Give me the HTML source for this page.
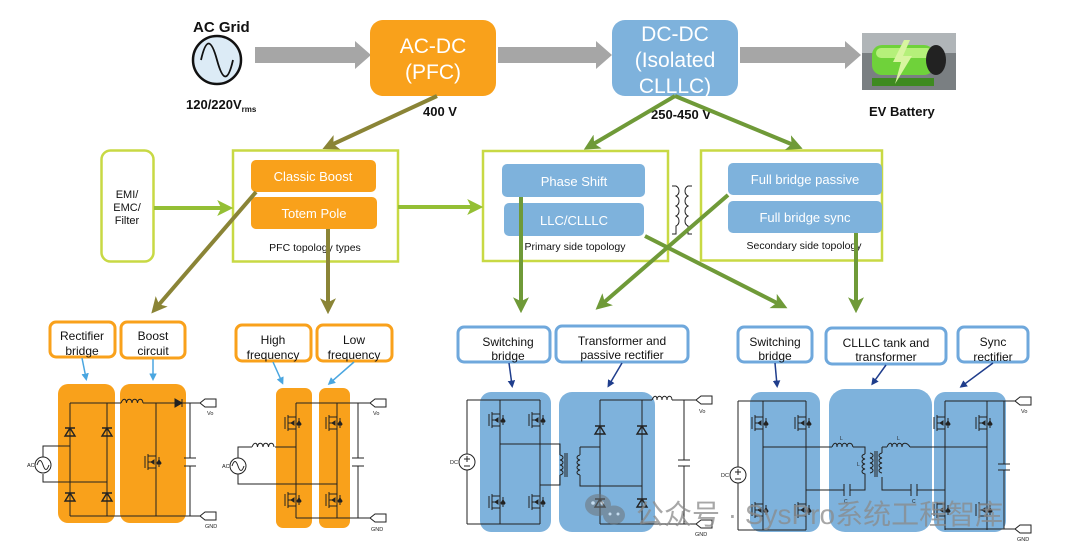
<!DOCTYPE html>
<html><head><meta charset="utf-8"><style>
html,body{margin:0;padding:0;background:#fff;}
svg{display:block;font-family:"Liberation Sans",Arial,sans-serif;}
</style></head><body>
<svg width="1080" height="555" viewBox="0 0 1080 555" xmlns="http://www.w3.org/2000/svg">
<defs>
<marker id="ao" markerWidth="4" markerHeight="4" refX="2.2" refY="2" orient="auto" markerUnits="strokeWidth"><path d="M0,0 L4,2 L0,4 L1,2z" fill="#8a8436"/></marker>
<marker id="ag" markerWidth="4" markerHeight="4" refX="2.2" refY="2" orient="auto" markerUnits="strokeWidth"><path d="M0,0 L4,2 L0,4 L1,2z" fill="#6f9a38"/></marker>
<marker id="al" markerWidth="4" markerHeight="4" refX="2.2" refY="2" orient="auto" markerUnits="strokeWidth"><path d="M0,0 L4,2 L0,4 L1,2z" fill="#94bf35"/></marker>
<marker id="ab" markerWidth="5" markerHeight="5" refX="3" refY="2.5" orient="auto" markerUnits="strokeWidth"><path d="M0,0 L5,2.5 L0,5z" fill="#4aa6e0"/></marker>
<marker id="an" markerWidth="5" markerHeight="5" refX="3" refY="2.5" orient="auto" markerUnits="strokeWidth"><path d="M0,0 L5,2.5 L0,5z" fill="#1f3d8c"/></marker>
<g id="mos" fill="none" stroke="#222" stroke-width="1">
<path d="M-11,6 V-6 M-8,-8 V8 M-8,-6 H0 V-14 M-8,6 H0 V14 M-8,0 H-3"/>
<path d="M-5,0 l3,-2 v4z M3,-5 V5 M1,2 h4 M3,-2 l-2,3 h4z" fill="#222"/>
</g>
<g id="dio"><path d="M-5,4 L5,4 L0,-4z M-5,-4 H5" fill="none" stroke="#222" stroke-width="1.4"/></g>
<g id="term"><path d="M0,0 L5,-4 H16 V4 H5z" fill="#fff" stroke="#222" stroke-width="1"/></g>
</defs>

<!-- Top row -->
<text x="193" y="32" font-size="15" font-weight="bold" fill="#111">AC Grid</text>
<circle cx="217" cy="60" r="24" fill="#dcebf6" stroke="#111" stroke-width="2.5"/>
<path d="M201,60 C206,38 211,38 217,60 C223,82 228,82 233,60" fill="none" stroke="#111" stroke-width="1.8"/>
<text x="186" y="109" font-size="13" font-weight="bold" fill="#111">120/220V<tspan font-size="8" dy="3">rms</tspan></text>

<g fill="#a6a6a6">
<path d="M255,47 H355 V41 L371,55 L355,69 V63 H255z"/>
<path d="M498,47 H596 V41 L612,55 L596,69 V63 H498z"/>
<path d="M740,47 H845 V41 L861,55 L845,69 V63 H740z"/>
</g>
<rect x="370" y="20" width="126" height="76" rx="13" fill="#f9a11b"/>
<text x="433" y="53" font-size="21" fill="#fff" text-anchor="middle">AC-DC</text>
<text x="433" y="79" font-size="21" fill="#fff" text-anchor="middle">(PFC)</text>
<rect x="612" y="20" width="126" height="76" rx="13" fill="#7eb2dc"/>
<text x="675" y="41" font-size="21" fill="#fff" text-anchor="middle">DC-DC</text>
<text x="675" y="67" font-size="21" fill="#fff" text-anchor="middle">(Isolated</text>
<text x="675" y="93" font-size="21" fill="#fff" text-anchor="middle">CLLLC)</text>

<!-- battery -->
<rect x="862" y="33" width="94" height="57" fill="#7a7f82"/>
<rect x="862" y="33" width="94" height="20" fill="#b0b5b8"/>
<rect x="872" y="45" width="62" height="30" rx="10" fill="#6fd23a"/>
<rect x="876" y="48" width="56" height="10" rx="5" fill="#b5f07a"/>
<ellipse cx="936" cy="60" rx="10" ry="15" fill="#222"/>
<rect x="872" y="78" width="62" height="8" fill="#3e8a20"/>
<path d="M904,40 L893,62 L901,62 L895,84 L912,56 L903,56 L910,40z" fill="#d8f5a0"/>

<text x="423" y="116" font-size="13" font-weight="bold" fill="#111">400 V</text>
<text x="651" y="119" font-size="13" font-weight="bold" fill="#111">250-450 V</text>
<text x="869" y="116" font-size="13" font-weight="bold" fill="#111">EV Battery</text>

<!-- Middle row -->
<rect x="101.5" y="150.5" width="52" height="111" rx="9" fill="#fff" stroke="#c8d944" stroke-width="2.5"/>
<text font-size="11" fill="#111" text-anchor="middle"><tspan x="127" y="198">EMI/</tspan><tspan x="127" y="211">EMC/</tspan><tspan x="127" y="224">Filter</tspan></text>

<rect x="233" y="150.5" width="165" height="111" fill="#fff" stroke="#c8d944" stroke-width="2.5"/>
<rect x="251" y="160" width="125" height="32" rx="5" fill="#f9a11b"/>
<text x="313" y="181" font-size="13" fill="#fff" text-anchor="middle">Classic Boost</text>
<rect x="251" y="197" width="126" height="32" rx="5" fill="#f9a11b"/>
<text x="314" y="218" font-size="13" fill="#fff" text-anchor="middle">Totem Pole</text>
<text x="315" y="251" font-size="10.5" fill="#111" text-anchor="middle">PFC topology types</text>

<rect x="483" y="151" width="185" height="110" fill="#fff" stroke="#c8d944" stroke-width="2.5"/>
<rect x="502" y="164" width="143" height="33" rx="5" fill="#7eb2dc"/>
<text x="574" y="186" font-size="13" fill="#fff" text-anchor="middle">Phase Shift</text>
<rect x="504" y="203" width="140" height="33" rx="5" fill="#7eb2dc"/>
<text x="574" y="225" font-size="13" fill="#fff" text-anchor="middle">LLC/CLLLC</text>
<text x="575" y="250" font-size="10.5" fill="#111" text-anchor="middle">Primary side topology</text>

<g fill="none" stroke="#222" stroke-width="1">
<path d="M672,186 h4 c4,2 4,8 0,10 c4,2 4,8 0,10 c4,2 4,8 0,10 c4,2 4,8 0,10 v8 h-4"/>
<path d="M692,186 h-4 c-4,2 -4,8 0,10 c-4,2 -4,8 0,10 c-4,2 -4,8 0,10 c-4,2 -4,8 0,10 v8 h4"/>
</g>

<rect x="701" y="150.5" width="181" height="110" fill="#fff" stroke="#c8d944" stroke-width="2.5"/>
<rect x="728" y="163" width="154" height="32" rx="5" fill="#7eb2dc"/>
<text x="805" y="184" font-size="13" fill="#fff" text-anchor="middle">Full bridge passive</text>
<rect x="728" y="201" width="154" height="32" rx="5" fill="#7eb2dc"/>
<text x="805" y="222" font-size="13" fill="#fff" text-anchor="middle">Full bridge sync</text>
<text x="804" y="249" font-size="10.5" fill="#111" text-anchor="middle">Secondary side topology</text>

<!-- connectors -->
<g fill="none" stroke-width="4">
<line x1="154" y1="208" x2="226" y2="208" stroke="#94bf35" marker-end="url(#al)"/>
<line x1="398" y1="207" x2="476" y2="207" stroke="#94bf35" marker-end="url(#al)"/>
<line x1="437" y1="96" x2="329" y2="146" stroke="#8a8436" marker-end="url(#ao)"/>
<line x1="675" y1="96" x2="590" y2="146" stroke="#6f9a38" marker-end="url(#ag)"/>
<line x1="675" y1="96" x2="796" y2="146" stroke="#6f9a38" marker-end="url(#ag)"/>
<line x1="256" y1="192" x2="156" y2="308" stroke="#8a8436" marker-end="url(#ao)"/>
<line x1="328" y1="229" x2="328" y2="307" stroke="#8a8436" marker-end="url(#ao)"/>
<line x1="521" y1="197" x2="521" y2="306" stroke="#6f9a38" marker-end="url(#ag)"/>
<line x1="728" y1="195" x2="601" y2="305" stroke="#6f9a38" marker-end="url(#ag)"/>
<line x1="645" y1="236" x2="781" y2="305" stroke="#6f9a38" marker-end="url(#ag)"/>
<line x1="856" y1="233" x2="856" y2="306" stroke="#6f9a38" marker-end="url(#ag)"/>
</g>

<!-- Bottom labels -->
<g fill="#fff" stroke="#f9a11b" stroke-width="3">
<rect x="50" y="322" width="65" height="35" rx="6"/>
<rect x="121" y="322" width="64" height="36" rx="6"/>
<rect x="236" y="325" width="75" height="36" rx="6"/>
<rect x="317" y="325" width="75" height="36" rx="6"/>
</g>
<g fill="#fff" stroke="#6fa8dc" stroke-width="3">
<rect x="458" y="327" width="92" height="35" rx="6"/>
<rect x="556" y="326" width="132" height="36" rx="6"/>
<rect x="738" y="327" width="74" height="35" rx="6"/>
<rect x="826" y="328" width="120" height="36" rx="6"/>
<rect x="958" y="327" width="70" height="35" rx="6"/>
</g>
<g font-size="12" fill="#111" text-anchor="middle">
<text x="82" y="340">Rectifier</text><text x="82" y="355">bridge</text>
<text x="153" y="340">Boost</text><text x="153" y="355">circuit</text>
<text x="273" y="344">High</text><text x="273" y="359">frequency</text>
<text x="354" y="344">Low</text><text x="354" y="359">frequency</text>
<text x="508" y="346">Switching</text><text x="508" y="360">bridge</text>
<text x="622" y="345">Transformer and</text><text x="622" y="359">passive rectifier</text>
<text x="775" y="346">Switching</text><text x="775" y="360">bridge</text>
<text x="886" y="347">CLLLC tank and</text><text x="886" y="361">transformer</text>
<text x="993" y="346">Sync</text><text x="993" y="361">rectifier</text>
</g>
<g stroke-width="1.5" fill="none">
<line x1="82" y1="358" x2="86" y2="378" stroke="#4aa6e0" marker-end="url(#ab)"/>
<line x1="153" y1="359" x2="153" y2="378" stroke="#4aa6e0" marker-end="url(#ab)"/>
<line x1="273" y1="362" x2="282" y2="382" stroke="#4aa6e0" marker-end="url(#ab)"/>
<line x1="354" y1="362" x2="330" y2="383" stroke="#4aa6e0" marker-end="url(#ab)"/>
<line x1="509" y1="363" x2="512" y2="385" stroke="#1f3d8c" marker-end="url(#an)"/>
<line x1="622" y1="363" x2="609" y2="385" stroke="#1f3d8c" marker-end="url(#an)"/>
<line x1="775" y1="363" x2="777" y2="385" stroke="#1f3d8c" marker-end="url(#an)"/>
<line x1="886" y1="365" x2="873" y2="383" stroke="#1f3d8c" marker-end="url(#an)"/>
<line x1="993" y1="363" x2="962" y2="386" stroke="#1f3d8c" marker-end="url(#an)"/>
</g>

<!-- Blocks -->
<g fill="#f9a11b">
<rect x="58" y="384" width="57" height="139" rx="10"/>
<rect x="120" y="384" width="66" height="139" rx="10"/>
<rect x="276" y="388" width="36" height="140" rx="7"/>
<rect x="319" y="388" width="31" height="140" rx="7"/>
</g>
<g fill="#7eb2dc">
<rect x="480" y="392" width="71" height="140" rx="11"/>
<rect x="559" y="392" width="96" height="140" rx="13"/>
<rect x="750" y="392" width="70" height="140" rx="11"/>
<rect x="829" y="389" width="103" height="143" rx="16"/>
<rect x="934" y="392" width="72" height="140" rx="11"/>
</g>

<!-- Circuit 1 -->
<g fill="none" stroke="#222" stroke-width="1">
<path d="M70,403 H121 M143,403 H200 M70,516 H200 M70,403 V516 M107,403 V516 M156,403 V516 M190,403 V458 M190,466 V516"/>
<path d="M121,403 c2,-5 5,-5 5.5,0 c0.5,-5 5,-5 5.5,0 c0.5,-5 5,-5 5.5,0 c0.5,-5 5,-5 5.5,0"/>
<path d="M184,458 h12 M184,466 h12"/>
<path d="M43,458 V446 H70 M43,474 V482 H107"/>
<circle cx="43" cy="465" r="8" fill="#fff"/>
<path d="M37,465 c2,-6 4,-6 6,0 c2,6 4,6 6,0"/>
</g>
<use href="#dio" x="70" y="432"/><use href="#dio" x="107" y="432"/>
<use href="#dio" x="70" y="497"/><use href="#dio" x="107" y="497"/>
<path d="M175,399 V407 L182,403z M182,399 V407" fill="#222" stroke="#222"/>
<use href="#mos" x="156" y="462"/>
<use href="#term" x="200" y="403"/><use href="#term" x="200" y="516"/>
<text x="207" y="415" font-size="5.5" fill="#222">Vo</text>
<text x="205" y="528" font-size="5.5" fill="#222">GND</text>
<text x="27" y="467" font-size="5.5" fill="#222">AC</text>

<!-- Circuit 2 -->
<g fill="none" stroke="#222" stroke-width="1">
<path d="M296,403 H370 M296,518 H370 M296,403 V518 M337,403 V518 M358,403 V458 M358,466 V518"/>
<path d="M238,458 V447 H252 M275,447 H296 M238,474 V484 H337"/>
<path d="M252,447 c2,-5 5,-5 5.5,0 c0.5,-5 5,-5 5.5,0 c0.5,-5 5,-5 5.5,0 c0.5,-5 5,-5 5.5,0"/>
<path d="M352,458 h12 M352,466 h12"/>
<circle cx="238" cy="466" r="8" fill="#fff"/>
<path d="M232,466 c2,-6 4,-6 6,0 c2,6 4,6 6,0"/>
</g>
<use href="#mos" x="296" y="423"/><use href="#mos" x="296" y="500"/>
<use href="#mos" x="337" y="423"/><use href="#mos" x="337" y="500"/>
<use href="#term" x="370" y="403"/><use href="#term" x="370" y="518"/>
<text x="373" y="415" font-size="5.5" fill="#222">Vo</text>
<text x="371" y="531" font-size="5.5" fill="#222">GND</text>
<text x="222" y="468" font-size="5.5" fill="#222">AC</text>

<!-- Circuit 3 -->
<g fill="none" stroke="#222" stroke-width="1">
<path d="M467,400 H540 M467,524 H540 M467,400 V524 M500,400 V524 M540,400 V524"/>
<path d="M500,444 H560 V455 M540,485 H560 V475"/>
<path d="M560,455 c4,1 4,4 0,5 c4,1 4,4 0,5 c4,1 4,4 0,5 c4,1 4,4 0,5 M565,453 V477 M567,453 V477"/>
<path d="M580,447 V455 M580,475 V486 H642 M580,447 H600 M580,455 c-4,1 -4,4 0,5 c-4,1 -4,4 0,5 c-4,1 -4,4 0,5 c-4,1 -4,4 0,5"/>
<path d="M600,400 V524 M642,400 V524 M600,400 H652 M672,400 H696 M600,524 H696 M684,400 V460 M684,466 V524"/>
<path d="M652,400 c2,-5 5,-5 5,0 c0,-5 5,-5 5,0 c0,-5 5,-5 5,0 c0,-5 5,-5 5,0"/>
<path d="M678,460 h12 M678,466 h12"/>
<circle cx="467" cy="462" r="8" fill="#fff"/>
<path d="M464,459 h6 M467,456 v6 M464,466 h6"/>
</g>
<use href="#mos" x="500" y="420"/><use href="#mos" x="540" y="420"/>
<use href="#mos" x="500" y="502"/><use href="#mos" x="540" y="502"/>
<use href="#dio" x="600" y="430"/><use href="#dio" x="642" y="430"/>
<use href="#dio" x="600" y="503"/><use href="#dio" x="642" y="503"/>
<use href="#term" x="696" y="400"/><use href="#term" x="696" y="524"/>
<text x="699" y="413" font-size="5.5" fill="#222">Vo</text>
<text x="695" y="536" font-size="5.5" fill="#222">GND</text>
<text x="450" y="464" font-size="5.5" fill="#222">DC</text>

<!-- Circuit 4 -->
<g fill="none" stroke="#222" stroke-width="1">
<path d="M738,401 H806 M738,530 H806 M738,401 V530 M763,401 V530 M806,401 V530"/>
<path d="M763,447 H832 M853,447 H865 V454 M806,490 H844 M850,490 H865 V479"/>
<path d="M832,447 c2,-5 5,-5 5,0 c0,-5 5,-5 5,0 c0,-5 5,-5 5,0 c0,-5 5,-5 6,0"/>
<path d="M844,484 v12 M850,484 v12"/>
<path d="M865,454 c-4,1 -4,4 0,5 c-4,1 -4,4 0,5 c-4,1 -4,4 0,5 c-4,1 -4,4 0,5 v5"/>
<path d="M870,453 c4,1 4,4 0,5 c4,1 4,4 0,5 c4,1 4,4 0,5 c4,1 4,4 0,5 M875,451 V477 M877,451 V477"/>
<path d="M882,447 V453 M882,477 V490 H911 M917,490 H945 M882,447 H887 M910,447 H987"/>
<path d="M882,453 c-4,1 -4,4 0,5 c-4,1 -4,4 0,5 c-4,1 -4,4 0,5 c-4,1 -4,4 0,5"/>
<path d="M887,447 c2,-5 5,-5 5,0 c0,-5 5,-5 5,0 c0,-5 5,-5 5,0 c0,-5 5,-5 8,0"/>
<path d="M911,484 v12 M917,484 v12"/>
<path d="M945,401 V530 M987,401 V530 M945,401 H1015 M945,529 H1015 M1004,401 V464 M1004,470 V529"/>
<path d="M998,464 h12 M998,470 h12"/>
<circle cx="738" cy="475" r="8" fill="#fff"/>
<path d="M735,472 h6 M738,469 v6 M735,479 h6"/>
</g>
<text x="840" y="440" font-size="5" fill="#222">L</text>
<text x="857" y="466" font-size="5" fill="#222">L</text>
<text x="897" y="440" font-size="5" fill="#222">L</text>
<text x="844" y="503" font-size="5" fill="#222">C</text>
<text x="912" y="503" font-size="5" fill="#222">C</text>
<use href="#mos" x="763" y="423"/><use href="#mos" x="806" y="423"/>
<use href="#mos" x="763" y="510"/><use href="#mos" x="806" y="510"/>
<use href="#mos" x="945" y="423"/><use href="#mos" x="987" y="423"/>
<use href="#mos" x="945" y="510"/><use href="#mos" x="987" y="510"/>
<use href="#term" x="1015" y="401"/><use href="#term" x="1015" y="529"/>
<text x="1021" y="413" font-size="5.5" fill="#222">Vo</text>
<text x="1017" y="541" font-size="5.5" fill="#222">GND</text>
<text x="721" y="477" font-size="5.5" fill="#222">DC</text>

<!-- watermark -->
<g opacity="0.55">
<ellipse cx="598" cy="505" rx="13" ry="11" fill="#6e7478"/>
<ellipse cx="614" cy="515" rx="11" ry="9.5" fill="#6e7478"/>
<circle cx="593" cy="503" r="1.8" fill="#fff"/><circle cx="602" cy="503" r="1.8" fill="#fff"/>
<circle cx="610" cy="514" r="1.5" fill="#fff"/><circle cx="618" cy="514" r="1.5" fill="#fff"/>
</g>
<text x="636" y="524" font-size="28" fill="#8a8a8a" opacity="0.75" font-family="'Liberation Sans','Noto Sans CJK SC',sans-serif">公众号 · SysPro系统工程智库</text>
</svg>
</body></html>
